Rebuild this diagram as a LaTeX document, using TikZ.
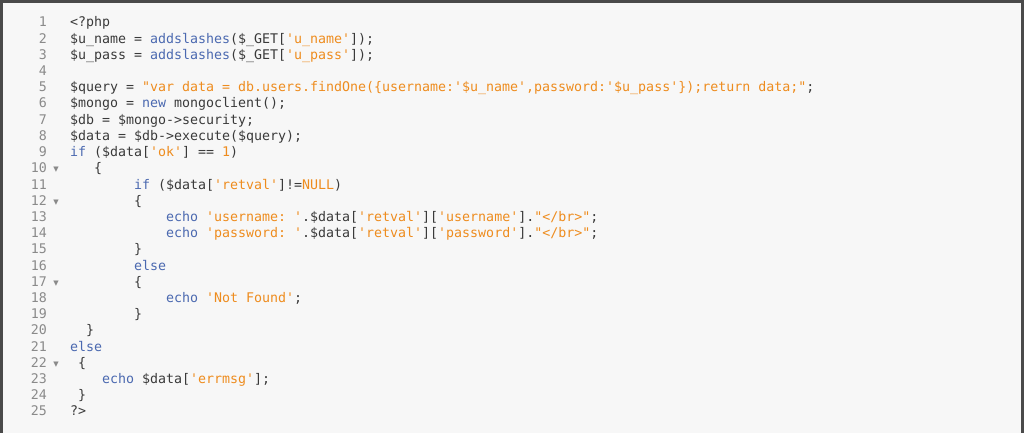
\documentclass[tikz,border=0pt]{standalone}
\usepackage{fontspec}
\setmonofont{DejaVu Sans Mono}
\newfontfamily\symfont{DejaVu Sans}
\definecolor{codebg}{HTML}{F7F7F7}
\definecolor{frame}{HTML}{4A4A4A}
\definecolor{plain}{HTML}{3A3A3A}
\definecolor{kwblue}{HTML}{4B69B0}
\definecolor{strorange}{HTML}{EE8C1E}
\definecolor{numgray}{HTML}{8A8A8A}
\newcommand{\K}[1]{\textcolor{kwblue}{#1}}
\newcommand{\St}[1]{\textcolor{strorange}{#1}}
\tikzset{
  code/.style={anchor=base west,inner sep=0pt,text=plain,font=\ttfamily\fontsize{13.29}{16}\selectfont},
  lnum/.style={anchor=base east,inner sep=0pt,text=numgray,font=\ttfamily\fontsize{13.29}{16}\selectfont},
  fold/.style={anchor=base,inner sep=0pt,text=numgray,font=\symfont\fontsize{7}{8}\selectfont}
}
% baseline of line n, indent in characters
\newcommand{\cl}[3]{\node[code] (l#1) at (70+8*#2,27+16.2*#1-16.2) {#3};}
\begin{document}
\begin{tikzpicture}[x=1pt,y=-1pt]
\useasboundingbox (0,0) rectangle (1024,433);
\fill[codebg] (0,0) rectangle (1024,433);
\fill[frame] (0,0) rectangle (1024,3);
\fill[frame] (0,0) rectangle (3,433);
\fill[frame] (1021,0) rectangle (1024,433);

\foreach \i in {1,...,25}
  \node[lnum] (n\i) at (47,27+16.2*\i-16.2) {\i};
\foreach \i in {10,12,17,22}
  \node[fold] (f\i) at (56,26+16.2*\i-16.2) {▼};

\cl{1}{0}{<?php}
\cl{2}{0}{\$u\_name = \K{addslashes}(\$\_GET[\St{'u\_name'}]);}
\cl{3}{0}{\$u\_pass = \K{addslashes}(\$\_GET[\St{'u\_pass'}]);}
\cl{5}{0}{\$query = \St{"var data = db.users.findOne(\{username:'\$u\_name',password:'\$u\_pass'\});return data;"};}
\cl{6}{0}{\$mongo = \K{new} mongoclient();}
\cl{7}{0}{\$db = \$mongo->security;}
\cl{8}{0}{\$data = \$db->execute(\$query);}
\cl{9}{0}{\K{if} (\$data[\St{'ok'}] == \St{1})}
\cl{10}{3}{\{}
\cl{11}{8}{\K{if} (\$data[\St{'retval'}]!=\St{NULL})}
\cl{12}{8}{\{}
\cl{13}{12}{\K{echo} \St{'username: '}.\$data[\St{'retval'}][\St{'username'}].\St{"</br>"};}
\cl{14}{12}{\K{echo} \St{'password: '}.\$data[\St{'retval'}][\St{'password'}].\St{"</br>"};}
\cl{15}{8}{\}}
\cl{16}{8}{\K{else}}
\cl{17}{8}{\{}
\cl{18}{12}{\K{echo} \St{'Not Found'};}
\cl{19}{8}{\}}
\cl{20}{2}{\}}
\cl{21}{0}{\K{else}}
\cl{22}{1}{\{}
\cl{23}{4}{\K{echo} \$data[\St{'errmsg'}];}
\cl{24}{1}{\}}
\cl{25}{0}{?>}

\end{tikzpicture}
\end{document}
